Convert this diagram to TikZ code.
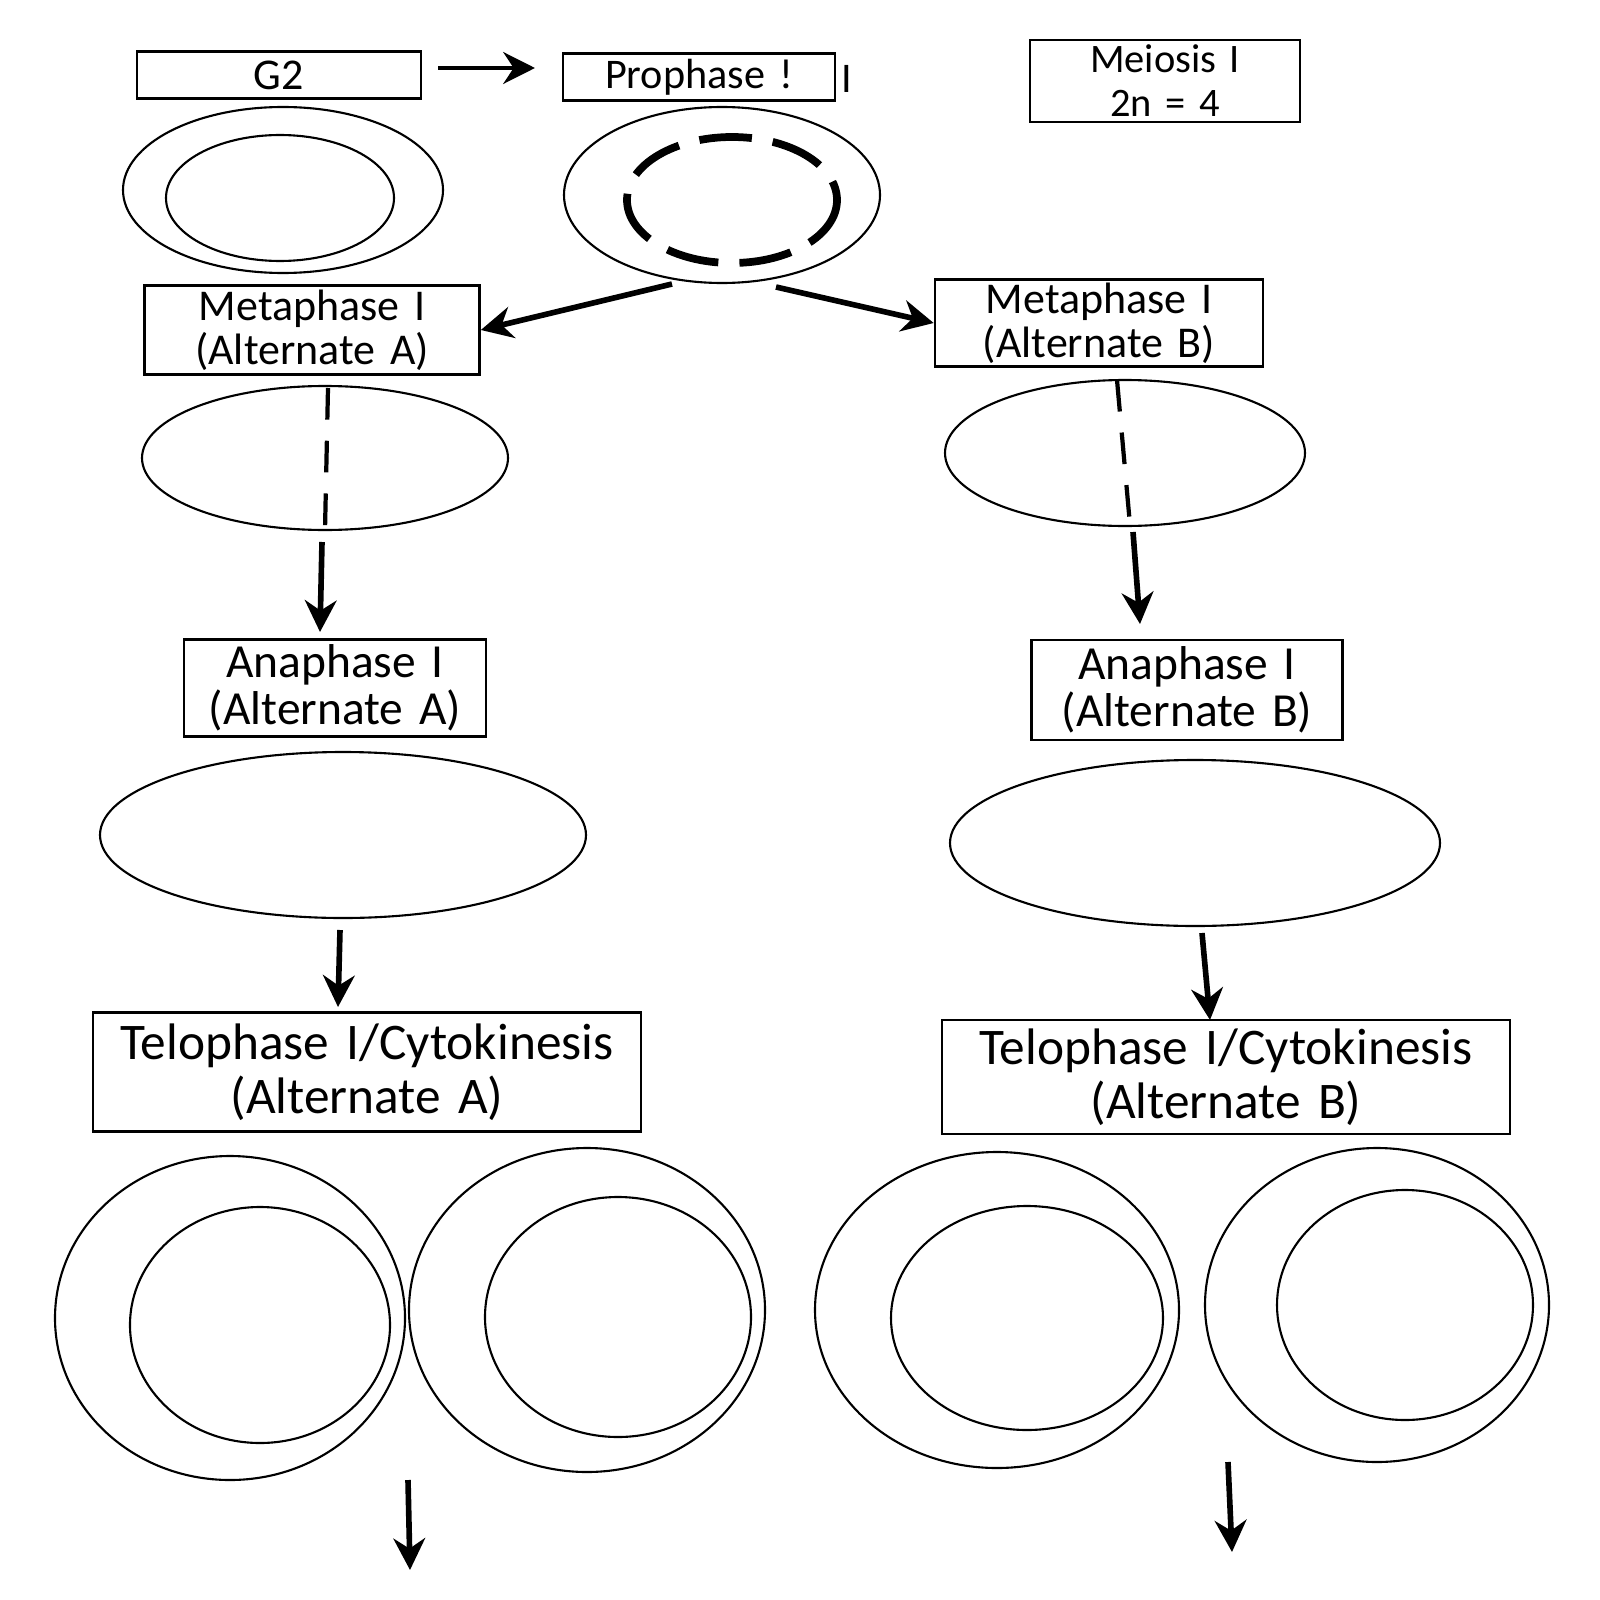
\documentclass[tikz,border=0pt]{standalone}
\usepackage{fontspec}
\setmainfont{Carlito}
\usetikzlibrary{arrows.meta}
\begin{document}
\begin{tikzpicture}[x=0.01cm,y=-0.01cm,
  box/.style={draw,line width=0.7pt,inner sep=0pt,align=center},
  cell/.style={line width=0.6pt},
  arr/.style={line width=1.6pt,-{Stealth[length=9pt,width=9pt]}},
  dsh/.style={line width=1.2pt,dash pattern=on 9pt off 6pt}]
\useasboundingbox (0,0) rectangle (1600,1600);
% top boxes
\node[box,text width=2.84cm,minimum height=0.47cm,font=\fontsize{12.5}{13}\selectfont] (g2) at (279,75) {G2};
\node[box,text width=2.72cm,minimum height=0.47cm,font=\fontsize{12}{13}\selectfont] (pro) at (699,77) {Prophase !};
\node[font=\fontsize{12}{13}\selectfont] (stray) at (847,79) {I};
\node[box,text width=2.70cm,minimum height=0.82cm,font=\fontsize{11.5}{12.5}\selectfont] (mei) at (1165,81) {Meiosis I\\2n = 4};
\coordinate (g2e) at (438,68); \coordinate (proe) at (535,68);
\draw[arr,line width=1.4pt] (g2e) -- (proe);
% G2 cell
\draw[cell] (283,190) ellipse [x radius=160,y radius=83];
\draw[cell] (280,198) ellipse [x radius=114,y radius=63];
% prophase cell
\draw[cell] (722,195) ellipse [x radius=158,y radius=88];
\draw[line width=2.2pt,dash pattern=on 15pt off 6pt] (732,200) ellipse [x radius=105,y radius=63];
% metaphase boxes
\node[box,text width=3.35cm,minimum height=0.89cm,font=\fontsize{12.5}{12.5}\selectfont] (ma) at (312,330) {Metaphase I\\(Alternate A)};
\node[box,text width=3.28cm,minimum height=0.87cm,font=\fontsize{12.5}{12.5}\selectfont] (mb) at (1099,323) {Metaphase I\\(Alternate B)};
\coordinate (p1) at (672,284); \coordinate (p2) at (776,287);
\draw[arr] (p1) -- (ma.east);
\draw[arr] (p2) -- (mb.west);
% metaphase cells
\draw[cell] (325,458) ellipse [x radius=183,y radius=72];
\draw[cell] (1125,453) ellipse [x radius=180,y radius=73];
\coordinate (da1) at (328,388); \coordinate (da2) at (325,530);
\coordinate (aa1) at (322,542); \coordinate (aa2) at (320,632);
\draw[dsh] (da1) -- (da2);
\draw[arr] (aa1) -- (aa2);
\coordinate (db1) at (1117,380); \coordinate (db2) at (1130,525);
\coordinate (ab1) at (1133,532); \coordinate (ab2) at (1140,624);
\draw[dsh] (db1) -- (db2);
\draw[arr] (ab1) -- (ab2);
% anaphase boxes
\node[box,text width=3.02cm,minimum height=0.97cm,font=\fontsize{13.5}{13.5}\selectfont] (aa) at (335,688) {Anaphase I\\(Alternate A)};
\node[box,text width=3.11cm,minimum height=1.0cm,font=\fontsize{13.5}{13.5}\selectfont] (ab) at (1187,690) {Anaphase I\\(Alternate B)};
\draw[cell] (343,835) ellipse [x radius=243,y radius=83];
\draw[cell] (1195,843) ellipse [x radius=245,y radius=83];
\coordinate (ta1) at (340,930); \coordinate (ta2) at (338,1007);
\coordinate (tb1) at (1202,933); \coordinate (tb2) at (1210,1020);
\draw[arr] (ta1) -- (ta2);
\draw[arr] (tb1) -- (tb2);
% telophase boxes
\node[box,text width=5.48cm,minimum height=1.19cm,font=\fontsize{14.6}{15.5}\selectfont] (ta) at (367,1072) {Telophase I/Cytokinesis\\(Alternate A)};
\node[box,text width=5.68cm,minimum height=1.14cm,font=\fontsize{14.6}{15.5}\selectfont] (tb) at (1226,1077) {Telophase I/Cytokinesis\\(Alternate B)};
% telophase cells
\draw[cell] (230,1318) ellipse [x radius=175,y radius=162];
\draw[cell] (260,1325) ellipse [x radius=130,y radius=118];
\draw[cell] (587,1310) ellipse [x radius=178,y radius=162];
\draw[cell] (618,1317) ellipse [x radius=133,y radius=120];
\draw[cell] (997,1310) ellipse [x radius=182,y radius=158];
\draw[cell] (1027,1318) ellipse [x radius=136,y radius=112];
\draw[cell] (1377,1305) ellipse [x radius=172,y radius=157];
\draw[cell] (1405,1305) ellipse [x radius=128,y radius=115];
\coordinate (ba1) at (408,1480); \coordinate (ba2) at (410,1570);
\coordinate (bb1) at (1228,1462); \coordinate (bb2) at (1232,1552);
\draw[arr] (ba1) -- (ba2);
\draw[arr] (bb1) -- (bb2);
\end{tikzpicture}
\end{document}
